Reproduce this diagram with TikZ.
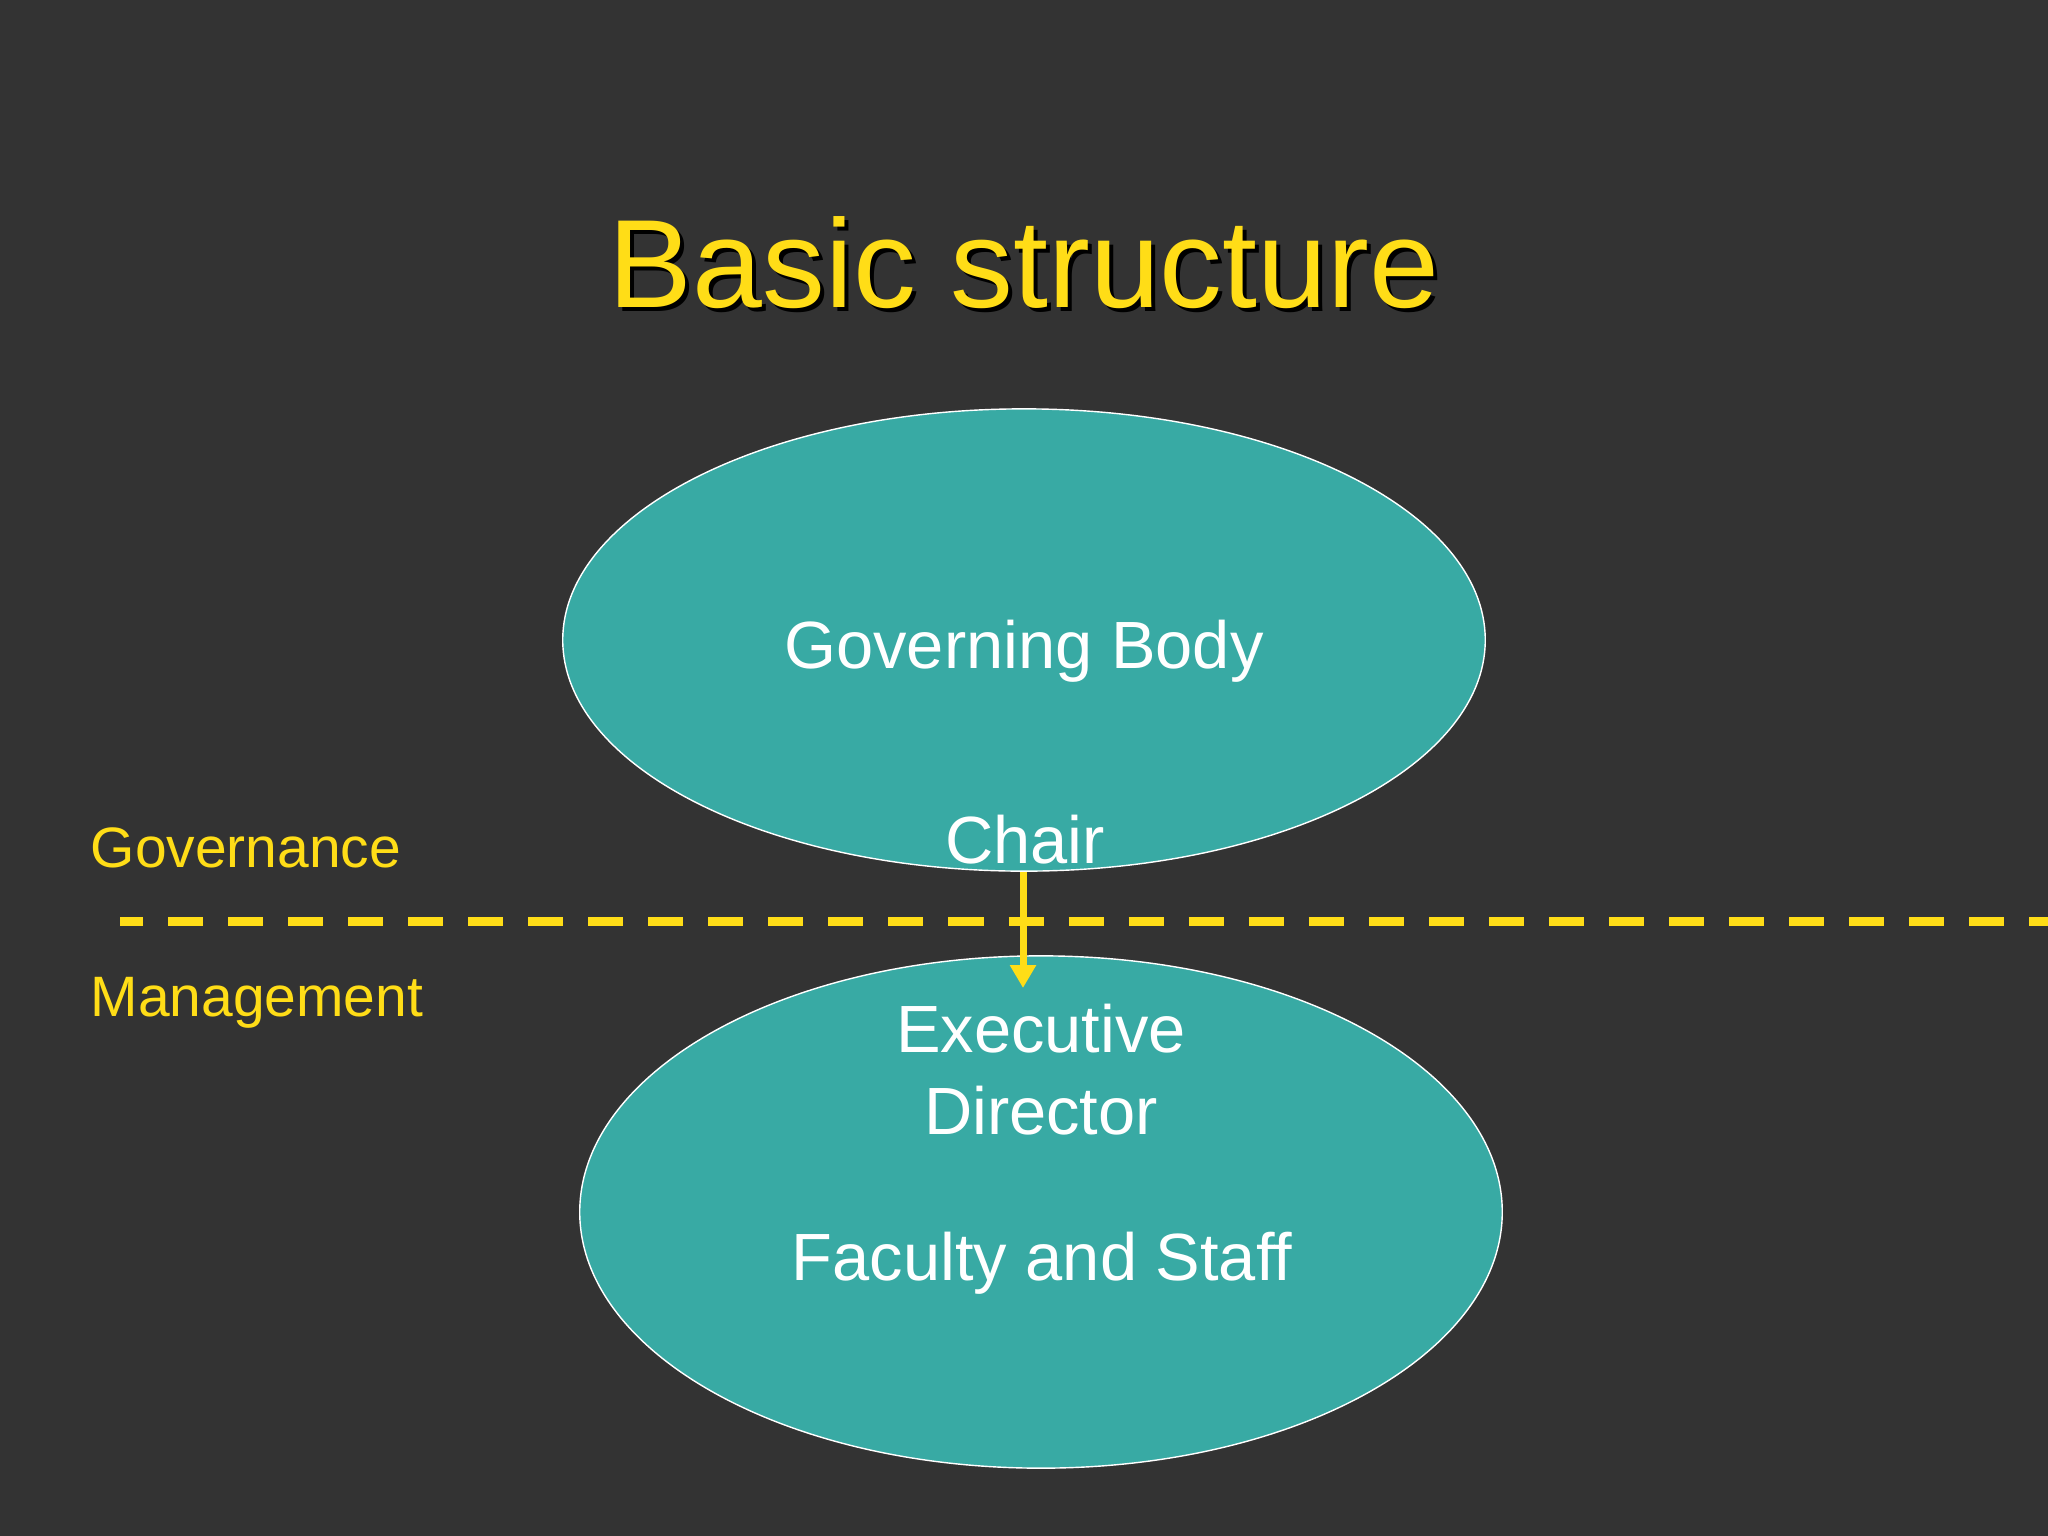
\documentclass[tikz,border=0pt]{standalone}
\usepackage{fontspec}
\setmainfont{Liberation Sans}
\usetikzlibrary{positioning, calc, arrows.meta, shapes.geometric}
\definecolor{slidebg}{RGB}{51, 51, 51}
\definecolor{bodyteal}{RGB}{56, 170, 164}
\definecolor{lineyel}{RGB}{255, 221, 23}

\tikzset{
  unit/.style={ellipse, fill=bodyteal, draw=white, line width=0.4pt, inner sep=0pt},
  bodytext/.style={anchor=base, text=white, font=\fontsize{19pt}{23pt}\selectfont},
  sidetext/.style={anchor=base west, text=lineyel, inner sep=0pt, font=\fontsize{16.2pt}{19pt}\selectfont},
}

\begin{document}
\begin{tikzpicture}[x=0.01cm, y=-0.01cm]
        % background
        \fill[slidebg] (0,0) rectangle (2048,1536);
        \useasboundingbox (0,0) rectangle (2048,1536);

        % title
        \node[anchor=base, text=black, font=\fontsize{35.7pt}{42pt}\selectfont] (shadow) at (1028,311) {Basic structure};
        \node[anchor=base, text=lineyel, font=\fontsize{35.7pt}{42pt}\selectfont] (title) at (1024,307) {Basic structure};

        % ellipses
        \node[unit, minimum width=9.22cm, minimum height=4.62cm] (gb) at (1024,640) {};
        \node[unit, minimum width=9.22cm, minimum height=5.12cm] (fs) at (1041,1212) {};

        % texts inside
        \node[bodytext] (gbtext) at (1024,668) {Governing Body};
        \node[bodytext] (chair) at (1025,863) {Chair};
        \node[bodytext] (exec) at (1041,1052) {Executive};
        \node[bodytext] (dir) at (1041,1134) {Director};
        \node[bodytext] (staff) at (1042,1280) {Faculty and Staff};

        % divide
        \coordinate (divl) at (120,921);
        \coordinate (divr) at (2048,921);
        \draw[lineyel, line width=0.09cm, dash pattern=on 0.35cm off 0.25cm, dash phase=0.12cm] (divl) -- (divr);
        \node[sidetext] (govern) at (90,867) {Governance};
        \node[sidetext] (manage) at (90,1016) {Management};

        % chair to director
        \coordinate (tip) at (1023,988);
        \draw[lineyel, line width=0.07cm, -{Triangle[width=0.25cm, length=0.23cm]}] (gb.south -| tip) -- (tip);
      \end{tikzpicture}
\end{document}
